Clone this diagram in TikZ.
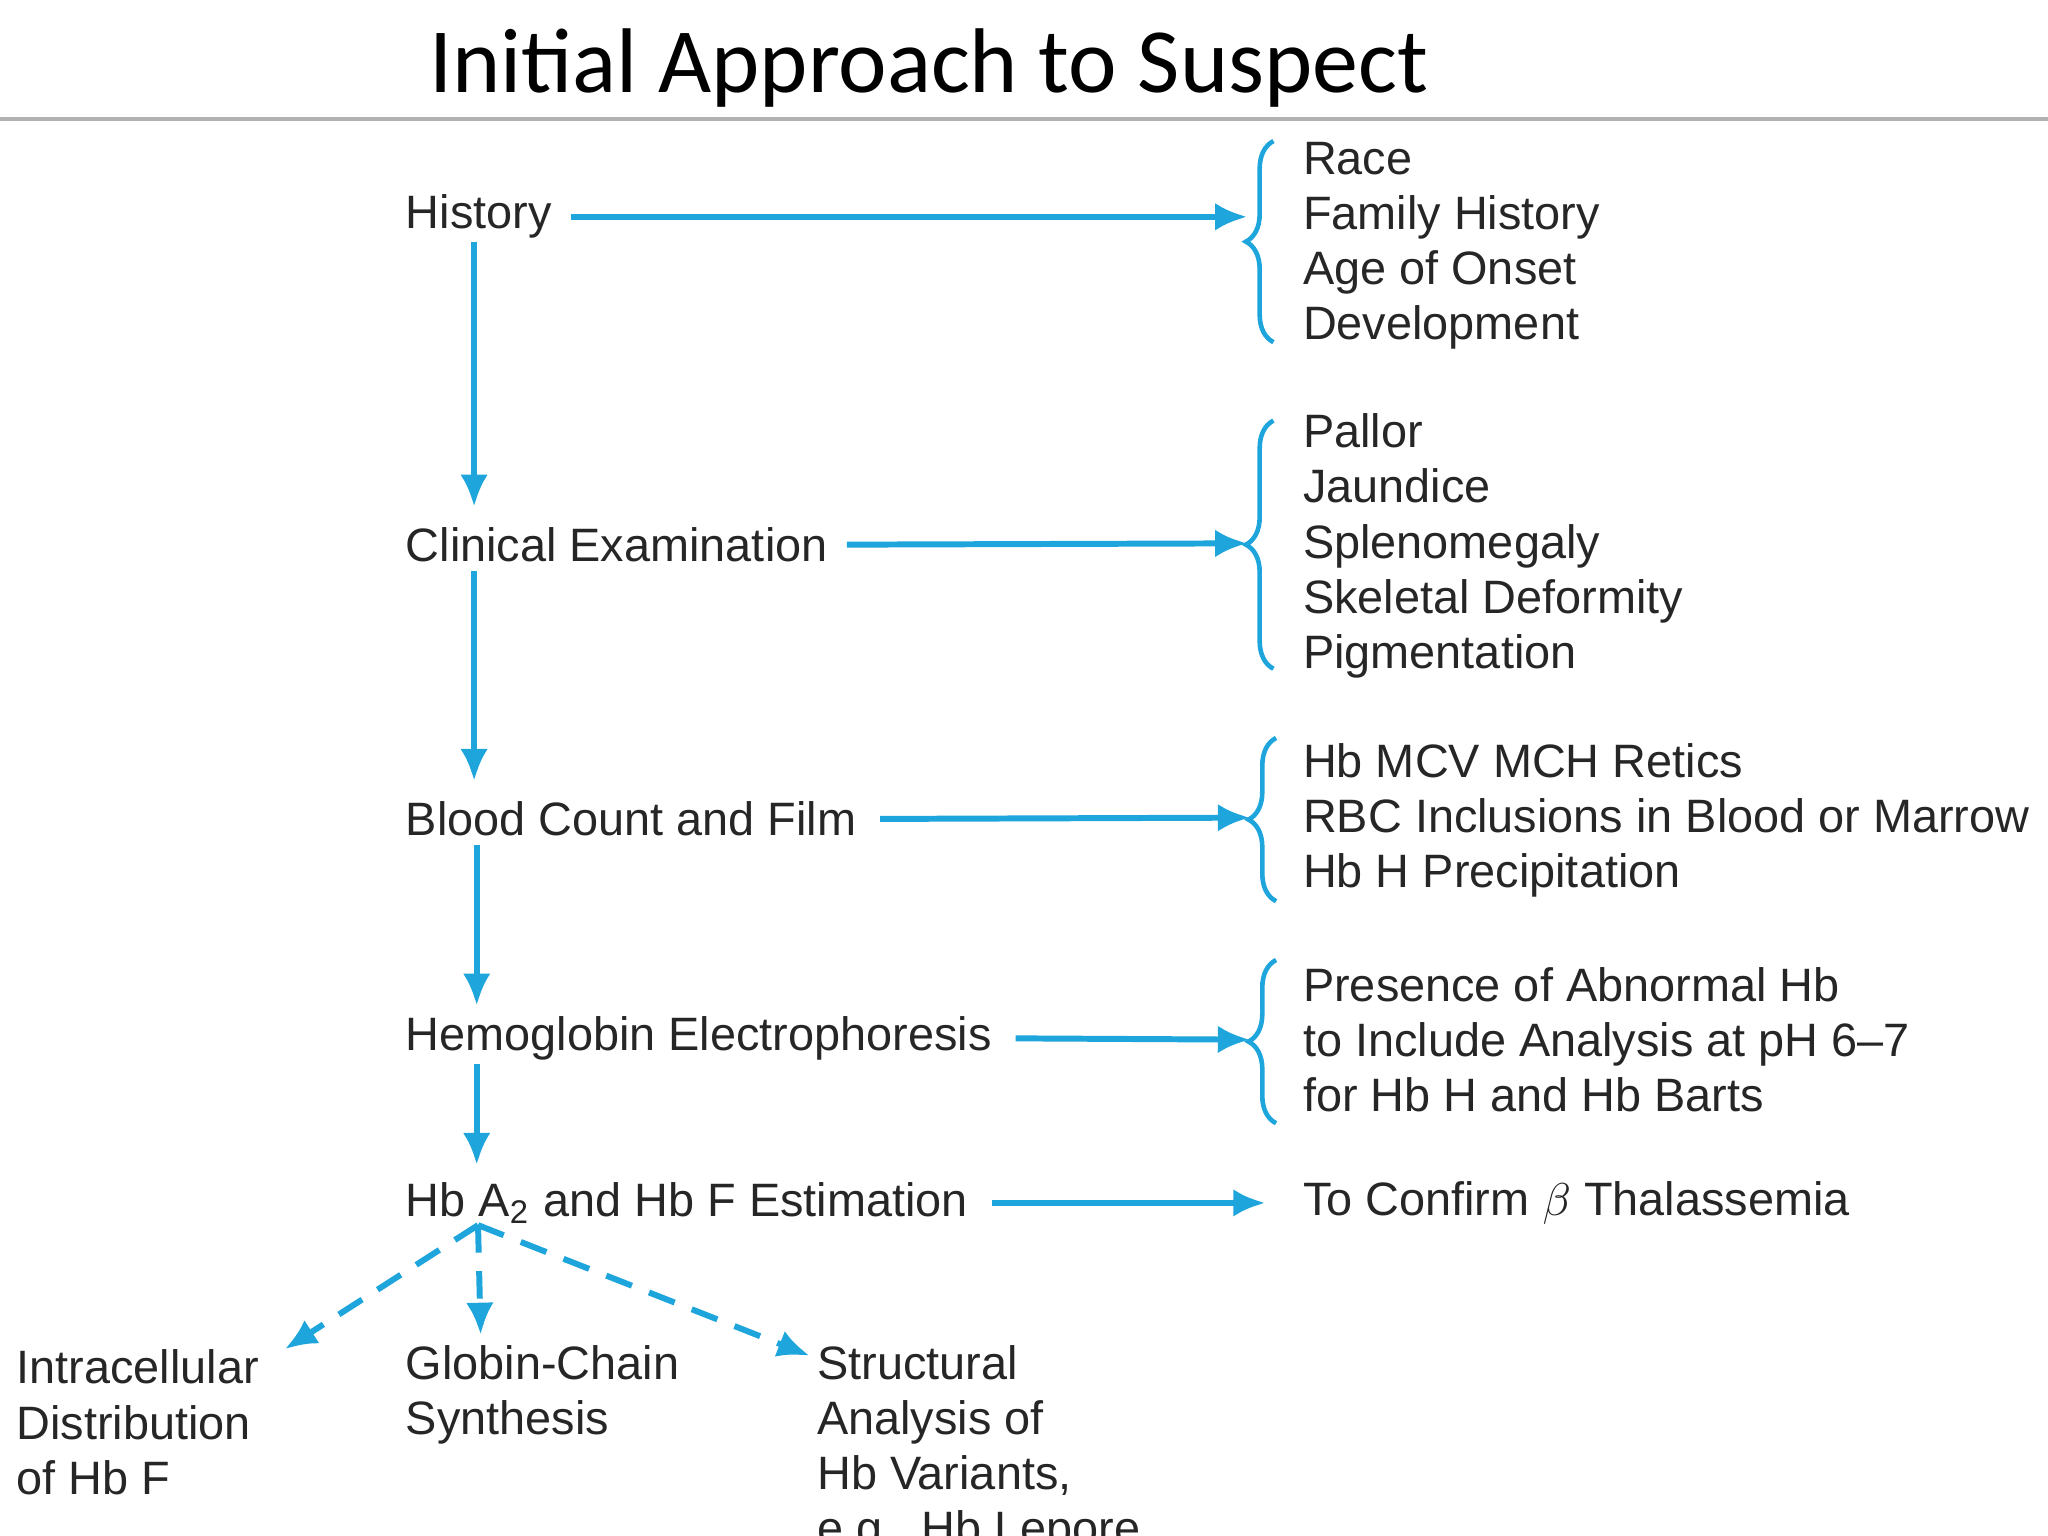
\documentclass[tikz,border=0pt]{standalone}
\usepackage{fontspec}
\setmainfont{Liberation Sans}
\newfontfamily\titlefont{Carlito}
\usetikzlibrary{arrows.meta,decorations.pathreplacing}
\definecolor{fblue}{RGB}{30,165,220}
\tikzset{
  lbl/.style={anchor=west,inner sep=0pt,font=\fontsize{10.2}{12}\selectfont,text=black!85},
  lst/.style={lbl,align=left},
  arr/.style={draw=fblue,line width=1.3pt,-{Latex[length=7pt,width=6pt]}},
  darr/.style={arr,dash pattern=on 6pt off 4pt},
  brc/.style={draw=fblue,line width=1pt,decorate,decoration={brace,amplitude=6pt}}
}
\begin{document}
\begin{tikzpicture}[x=0.01cm,y=-0.01cm]
\useasboundingbox (0,0) rectangle (1568,1176);
\clip (0,0) rectangle (1568,1176);
\node[anchor=center,font=\titlefont\fontsize{20}{24}\selectfont] (title) at (711,52) {Initial Approach to Suspect};
\draw[gray!60,line width=0.8pt] (0,91) -- (1568,91);

\node[lbl] (h) at (310,166) {History};
\node[lbl] (c) at (310,417) {Clinical Examination};
\node[lbl] (b) at (310,627) {Blood Count and Film};
\node[lbl] (e) at (310,795) {Hemoglobin Electrophoresis};
\node[lbl] (a) at (310,921) {Hb A\textsubscript{2} and Hb F Estimation};

\coordinate (v1) at (363,185); \coordinate (v1e) at (363,388);
\coordinate (v2) at (363,437); \coordinate (v2e) at (363,598);
\coordinate (v3) at (365,647); \coordinate (v3e) at (365,770);
\coordinate (v4) at (365,815); \coordinate (v4e) at (365,892);
\draw[arr] (v1) -- (v1e);
\draw[arr] (v2) -- (v2e);
\draw[arr] (v3) -- (v3e);
\draw[arr] (v4) -- (v4e);

\node[lst] (r1) at (997,188) {Race\\Family History\\Age of Onset\\Development};
\node[lst] (r2) at (997,418) {Pallor\\Jaundice\\Splenomegaly\\Skeletal Deformity\\Pigmentation};
\node[lst] (r3) at (997,628) {Hb MCV MCH Retics\\RBC Inclusions in Blood or Marrow\\Hb H Precipitation};
\node[lst] (r4) at (997,796) {Presence of Abnormal Hb\\to Include Analysis at pH 6--7\\for Hb H and Hb Barts};
\node[lbl] (r5) at (997,921) {To Confirm $\beta$ Thalassemia};

\draw[brc] (975,262) -- (975,108);
\draw[brc] (975,512) -- (975,322);
\draw[brc] (977,690) -- (977,565);
\draw[brc] (977,860) -- (977,735);

\coordinate (t1) at (955,166); \coordinate (t2) at (955,416);
\coordinate (t3) at (957,626); \coordinate (t4) at (957,796);
\draw[arr] ([xshift=4pt]h.east) -- (t1);
\draw[arr] ([xshift=4pt]c.east) -- (t2);
\draw[arr] ([xshift=5pt]b.east) -- (t3);
\draw[arr] ([xshift=5pt]e.east) -- (t4);
\draw[arr] ([xshift=5pt]a.east) -- ([xshift=-8pt]r5.west);

\node[lst] (d1) at (12,1089) {Intracellular\\Distribution\\of Hb F};
\node[lst] (d2) at (310,1068) {Globin-Chain\\Synthesis};
\node[lst] (d3) at (625,1110) {Structural\\Analysis of\\Hb Variants,\\e.g., Hb Lepore};

\coordinate (o) at (366,938);
\draw[darr] (o) -- (218,1033);
\draw[darr] (o) -- (368,1022);
\draw[darr] (o) -- (620,1038);
\end{tikzpicture}
\end{document}
